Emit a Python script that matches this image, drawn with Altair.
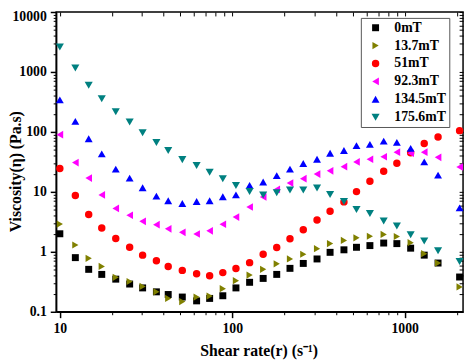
import altair as alt
import pandas as pd

# ---- data ----
shear = [10, 12.3, 14.7, 17.5, 21.1, 25.4, 30.2, 36.3, 42.5, 51.3, 62.1, 73.9, 88.1, 105,
         126, 151, 181, 216, 258, 310, 369, 444, 525, 628, 755, 900, 1082, 1297, 1560, 2080]

series_names = ["0mT", "13.7mT", "51mT", "92.3mT", "134.5mT", "175.6mT"]

visc_0 = [2.0, 0.80, 0.51, 0.42, 0.35, 0.29, 0.25, 0.215, 0.194, 0.176, 0.152, 0.167, 0.185, 0.25,
          0.31, 0.36, 0.42, 0.53, 0.64, 0.76, 0.98, 1.08, 1.19, 1.27, 1.40, 1.37, 1.15, 0.88, 0.65, 0.38]
visc_13_7 = [2.9, 1.30, 0.78, 0.57, 0.375, 0.32, 0.265, 0.215, 0.167, 0.148, 0.176, 0.183, 0.243, 0.33,
             0.41, 0.51, 0.63, 0.76, 0.91, 1.13, 1.37, 1.55, 1.71, 1.82, 1.95, 1.80, 1.42, 0.93, 0.65, 0.26]
visc_51 = [24.6, 8.7, 4.2, 2.5, 1.67, 1.19, 0.88, 0.71, 0.57, 0.49, 0.43, 0.40, 0.45, 0.525,
           0.66, 0.91, 1.18, 1.65, 2.33, 3.4, 4.75, 6.8, 10.1, 15.0, 22.0, 30.0, 45.0, 64.0, 82.0, 105.0]
visc_92_3 = [90, 30.8, 17.0, 8.9, 5.3, 4.07, 3.22, 2.84, 2.42, 2.11, 1.98, 2.24, 2.88, 3.8,
             5.6, 8.2, 11.0, 14.0, 16.6, 19.8, 22.4, 26.3, 31.6, 35.0, 38.5, 46.0, 44.0, 46.0, 37.7, 26.0]
visc_134_5 = [343, 150, 77, 43, 24, 17, 11.7, 8.5, 7.1, 6.4, 6.9, 7.1, 8.3, 8.9,
              12.8, 14.6, 18.6, 24.0, 29.7, 35.0, 44.0, 49.0, 59.0, 62.0, 70.0, 67.0, 53.0, 31.6, 19.0, 5.4]
visc_175_6 = [2600, 1160, 600, 356, 217, 146, 97, 66.6, 48.9, 34.5, 27.5, 21.2, 16.5, 12.8,
              10.1, 8.9, 9.7, 10.7, 10.7, 11.6, 9.0, 6.9, 5.1, 4.34, 3.26, 2.7, 1.93, 1.51, 1.04, 0.69]

series_values = [visc_0, visc_13_7, visc_51, visc_92_3, visc_134_5, visc_175_6]

x_tick_values = [10, 20, 30, 40, 50, 60, 70, 80, 90,
                 100, 200, 300, 400, 500, 600, 700, 800, 900, 1000, 2000]
y_tick_values = [0.1, 0.2, 0.3, 0.4, 0.5, 0.6, 0.7, 0.8, 0.9,
                 1, 2, 3, 4, 5, 6, 7, 8, 9,
                 10, 20, 30, 40, 50, 60, 70, 80, 90,
                 100, 200, 300, 400, 500, 600, 700, 800, 900,
                 1000, 2000, 3000, 4000, 5000, 6000, 7000, 8000, 9000, 10000]

# ---- table ----
rows = []
for name, vals in zip(series_names, series_values):
    for x, v in zip(shear, vals):
        rows.append({"shear": x, "visc": v, "field": name})
df = pd.DataFrame(rows)

colors = ["#000000", "#808000", "#ff0000", "#ff00ff", "#0000ff", "#008080"]
shapes = ["square", "triangle-right", "circle", "triangle-left", "triangle-up", "triangle-down"]
marker_sizes = [50, 68, 55, 68, 68, 68]

FONT = "Liberation Serif"
MAJOR = "abs(log(datum.value)/LN10 - round(log(datum.value)/LN10)) < 0.001"

xscale = alt.Scale(type="log", domain=[9.52, 2178], nice=False)
yscale = alt.Scale(type="log", domain=[0.1, 10000], nice=False)

x_axis = alt.Axis(
    orient="bottom", values=x_tick_values, grid=False,
    labelExpr=f"{MAJOR} ? format(datum.value, '~g') : ''",
    labelOverlap=False, labelFlush=False,
    labelFont=FONT, labelFontWeight="bold", labelFontSize=14, labelColor="black",
    labelPadding=4,
    tickSize={"condition": {"test": MAJOR, "value": 6}, "value": 3},
    tickWidth={"condition": {"test": MAJOR, "value": 1.5}, "value": 1},
    tickColor="black", domainColor="black", domainWidth=1.5,
    title="Shear rate(r) (s\u207b\u00b9)", titleFont=FONT, titleFontWeight="bold",
    titleFontSize=16, titleColor="black", titleX=206, titleY=39, titleBaseline="middle",
)
y_axis = alt.Axis(
    orient="left", values=y_tick_values, grid=False,
    labelExpr=f"{MAJOR} ? format(datum.value, '~g') : ''",
    labelOverlap=False, labelFlush=False,
    labelFont=FONT, labelFontWeight="bold", labelFontSize=14, labelColor="black",
    labelPadding=4,
    labelOffset={"condition": {"test": "datum.value >= 9999", "value": 5}, "value": 0},
    tickSize={"condition": {"test": MAJOR, "value": 6}, "value": 3},
    tickWidth={"condition": {"test": MAJOR, "value": 1.5}, "value": 1},
    tickColor="black", domainColor="black", domainWidth=1.5,
    title="Viscosity(\u03b7) (Pa.s)", titleFont=FONT, titleFontWeight="bold",
    titleFontSize=16, titleColor="black", titleX=-41, titleY=162, titleAngle=-90,
    titleBaseline="middle",
)
x_top = alt.Axis(orient="top", values=x_tick_values, grid=False, labels=False, domain=False,
                 tickSize=4, offset=-4, tickColor="black", tickWidth=1, title="")
y_right = alt.Axis(orient="right", values=y_tick_values, grid=False, labels=False, domain=False,
                   tickSize=4, offset=-4, tickColor="black", tickWidth=1, title="")

legend = alt.Legend(
    orient="none", legendX=310, legendY=6, title=None,
    padding=3, strokeColor="#555555", fillColor="white", cornerRadius=0,
    labelFont=FONT, labelFontWeight="bold", labelFontSize=14, labelColor="black",
    symbolSize=36, symbolOffset=5, labelOffset=12, rowPadding=4.2,
    symbolStrokeWidth=0,
)

points = alt.Chart(df).mark_point(filled=True, opacity=1, strokeWidth=0).encode(
    x=alt.X("shear:Q", scale=xscale, axis=x_axis),
    y=alt.Y("visc:Q", scale=yscale, axis=y_axis),
    color=alt.Color("field:N", scale=alt.Scale(domain=series_names, range=colors), legend=legend),
    shape=alt.Shape("field:N", scale=alt.Scale(domain=series_names, range=shapes), legend=legend),
    size=alt.Size("field:N", scale=alt.Scale(domain=series_names, range=marker_sizes), legend=None),
)

mirror = alt.Chart(df).mark_point(opacity=0).encode(
    x=alt.X("shear:Q", scale=xscale, axis=x_top),
    y=alt.Y("visc:Q", scale=yscale, axis=y_right),
)

chart = alt.layer(points, mirror).resolve_axis(x="independent", y="independent").properties(
    width=414, height=305,
    autosize=alt.AutoSizeParams(type="none"),
    padding={"left": 49, "top": 1, "right": 3, "bottom": 46},
    background="white",
).configure_view(stroke="black", strokeWidth=1.5)

chart.save("out.html", embed_options={"renderer": "svg", "actions": False})
